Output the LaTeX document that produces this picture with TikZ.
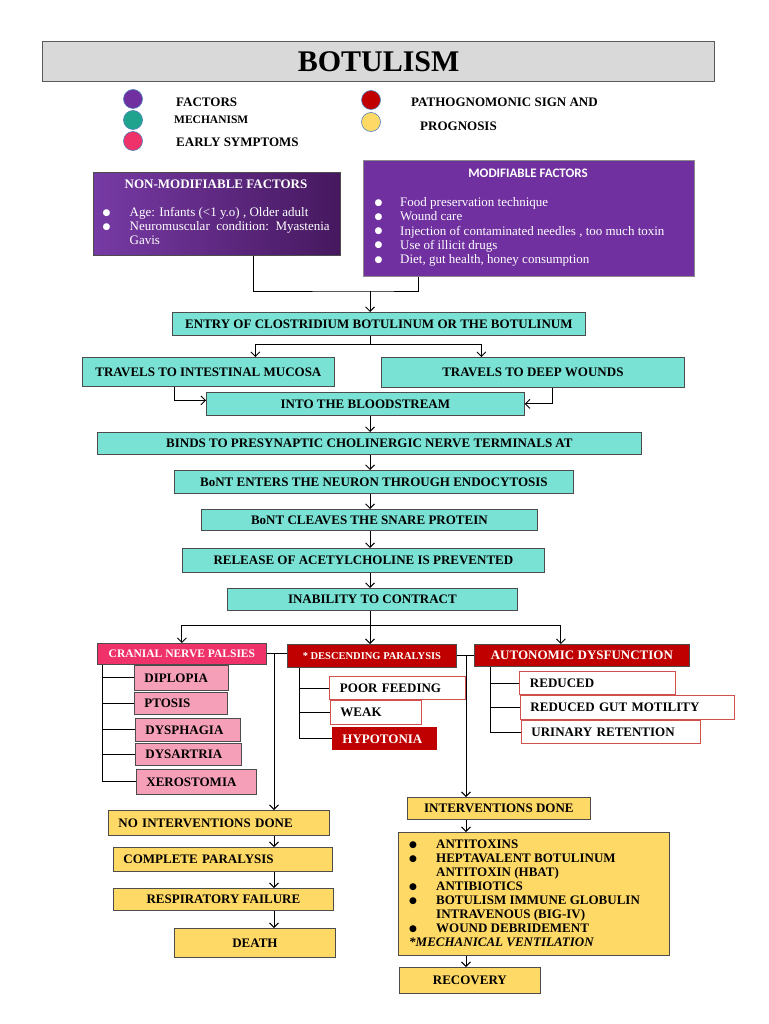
\documentclass[tikz,border=0pt]{standalone}
\usepackage{fontspec}
\setmainfont{Liberation Serif}
\newfontfamily\calibri{Carlito}
\newfontfamily\dejavu{DejaVu Sans}
\usetikzlibrary{arrows.meta}

\definecolor{factpurple}{HTML}{7030A0}
\definecolor{factdark}{HTML}{46185F}
\definecolor{mechteal}{HTML}{7AE2D4}
\definecolor{legteal}{HTML}{1FA38E}
\definecolor{symppink}{HTML}{F5A0B8}
\definecolor{sympred}{HTML}{F0326A}
\definecolor{signred}{HTML}{C00000}
\definecolor{progyellow}{HTML}{FFD966}
\definecolor{itemborder}{HTML}{D0504D}
\definecolor{legborder}{HTML}{4F81BD}
\definecolor{titlegray}{HTML}{D9D9D9}

% List bullet
\newcommand{\blt}{\raisebox{1.5pt}{\dejavu\fontsize{9}{14}\selectfont ●}}

\begin{document}
\begin{tikzpicture}[x=1pt, y=-1pt,
  every node/.style={inner sep=0pt, font=\bfseries\fontsize{13}{14}\selectfont},
  box/.style={draw=black!70, line width=0.8pt, anchor=north west},
  mech/.style={box, fill=mechteal},
  prog/.style={box, fill=progyellow},
  item/.style={box, text width=#1, align=left, inner xsep=10pt},
  sign/.style={box, fill=signred, text=white},
  outline/.style={draw=itemborder, line width=0.9pt, fill=white, anchor=north west},
  legdot/.style={circle, draw=legborder, line width=0.6pt, minimum size=19pt},
  arr/.style={-{Straight Barb[length=4.5pt,width=9pt]}, line width=0.9pt},
  link/.style={line width=0.9pt}
]

% Page
\path[use as bounding box, fill=white] (0,0) rectangle (768,1024);

% Title
\node[box, fill=titlegray, draw=black!65, line width=1.2pt, minimum width=672pt, minimum height=40pt,
      font=\bfseries\fontsize{30}{32}\selectfont] (title) at (42,41) {BOTULISM};

% Legend
\node[legdot, fill=factpurple] (lgfact) at (133,99) {};
\node[legdot, fill=legteal] (lgmech) at (133,120) {};
\node[legdot, fill=sympred] (lgsymp) at (133,141) {};
\node[legdot, fill=signred] (lgsign) at (371,100) {};
\node[legdot, fill=progyellow] (lgprog) at (371,122) {};
\node[anchor=west] (txfact) at (176,102) {FACTORS};
\node[anchor=west, font=\bfseries\fontsize{11.5}{13}\selectfont] (txmech) at (174,120) {MECHANISM};
\node[anchor=west] (txsymp) at (176,142) {EARLY SYMPTOMS};
\node[anchor=west] (txsign) at (411,102) {PATHOGNOMONIC SIGN AND};
\node[anchor=west] (txprog) at (420,126) {PROGNOSIS};

% Factors
\node[box, left color=factpurple!95!white, right color=factdark, minimum width=247pt, minimum height=83pt] (nonmod) at (93,172) {};
\node[text=white] (nonmodtitle) at (216,184) {NON-MODIFIABLE FACTORS};
\node[anchor=north west, text=white, font=\fontsize{13}{14}\selectfont] (nonmodlist) at (102.5,207) {%
  \begin{tabular}{@{}p{27pt}@{}l@{}}
  \blt & Age: Infants (<1 y.o) , Older adult\\
  \blt & Neuromuscular\ \ condition:\ \ Myastenia\\
       & Gavis
  \end{tabular}};

\node[box, fill=factpurple, draw=black!45, minimum width=331pt, minimum height=116pt] (mod) at (363,160) {};
\node[text=white, font=\calibri\bfseries\fontsize{13}{14}\selectfont] (modtitle) at (528,173) {MODIFIABLE FACTORS};
\node[anchor=north west, text=white, font=\fontsize{13}{14.25}\selectfont] (modlist) at (374.5,196.5) {%
  \begin{tabular}{@{}p{25.5pt}@{}l@{}}
  \blt & Food preservation technique\\
  \blt & Wound care\\
  \blt & Injection of contaminated needles , too much toxin\\
  \blt & Use of illicit drugs\\
  \blt & Diet, gut health, honey consumption
  \end{tabular}};

% Mechanism
\node[mech, minimum width=413pt, minimum height=23pt] (entry) at (172,312) {ENTRY\ OF\ CLOSTRIDIUM\ BOTULINUM\ OR\ THE\ BOTULINUM};
\node[mech, minimum width=252pt, minimum height=29pt] (intest) at (82,357) {TRAVELS TO INTESTINAL MUCOSA};
\node[mech, minimum width=303pt, minimum height=30pt] (deep) at (381,357) {TRAVELS TO DEEP WOUNDS};
\node[mech, minimum width=318pt, minimum height=23pt] (blood) at (206,392) {INTO THE BLOODSTREAM};
\node[mech, minimum width=544pt, minimum height=22pt] (binds) at (97,432) {BINDS TO PRESYNAPTIC CHOLINERGIC NERVE TERMINALS AT};
\node[mech, minimum width=399pt, minimum height=23pt] (enters) at (174,470) {BoNT ENTERS THE NEURON THROUGH ENDOCYTOSIS};
\node[mech, minimum width=336pt, minimum height=21pt] (cleaves) at (201,509) {BoNT CLEAVES THE SNARE PROTEIN};
\node[mech, minimum width=362pt, minimum height=24pt] (release) at (182,548) {RELEASE OF ACETYLCHOLINE IS PREVENTED};
\node[mech, minimum width=290pt, minimum height=22pt] (inab) at (227,588) {INABILITY TO CONTRACT};

% Early symptoms and signs
\node[box, fill=sympred, text=white, minimum width=169pt, minimum height=21pt,
      font=\bfseries\fontsize{11.5}{13}\selectfont] (cranial) at (97,643) {CRANIAL NERVE PALSIES};
\node[sign, minimum width=169pt, minimum height=23pt,
      font=\bfseries\fontsize{10.5}{12}\selectfont] (descend) at (287,644) {* DESCENDING PARALYSIS};
\node[sign, minimum width=215pt, minimum height=22pt] (auto) at (474,644) {AUTONOMIC DYSFUNCTION};

\node[item=74pt, fill=symppink, minimum height=25pt] (diplo) at (134,665) {DIPLOPIA};
\node[item=73pt, fill=symppink, minimum height=22pt] (ptosis) at (134,692) {PTOSIS};
\node[item=85pt, fill=symppink, minimum height=23pt] (dysph) at (135,718) {DYSPHAGIA};
\node[item=86pt, fill=symppink, minimum height=22pt] (dysar) at (135,743) {DYSARTRIA};
\node[item=100pt, fill=symppink, minimum height=25pt] (xero) at (136,769) {XEROSTOMIA};

\node[outline, text width=115pt, align=left, inner xsep=10.5pt, minimum height=23pt] (poor) at (329,676) {POOR FEEDING};
\node[outline, text width=71pt, align=left, inner xsep=10pt, minimum height=24pt] (weak) at (330,700) {WEAK};
\node[sign, draw=none, text width=85pt, align=left, inner xsep=10pt, minimum height=23pt] (hypo) at (332,727) {HYPOTONIA};

\node[outline, text width=135pt, align=left, inner xsep=10.5pt, minimum height=23pt] (reduced) at (519,671) {REDUCED};
\node[outline, text width=194pt, align=left, inner xsep=10pt, minimum height=24pt] (gut) at (520,695) {REDUCED GUT MOTILITY};
\node[outline, text width=159pt, align=left, inner xsep=10pt, minimum height=23pt] (urin) at (521,720) {URINARY RETENTION};

% Prognosis
\node[prog, text width=201pt, align=left, inner xsep=10pt, minimum height=25pt] (noint) at (108,810) {NO INTERVENTIONS DONE};
\node[prog, text width=199pt, align=left, inner xsep=10pt, minimum height=24pt] (compl) at (113,847) {COMPLETE PARALYSIS};
\node[prog, minimum width=220pt, minimum height=22pt] (resp) at (113,888) {RESPIRATORY FAILURE};
\node[prog, minimum width=161pt, minimum height=29pt] (death) at (174,928) {DEATH};

\node[prog, minimum width=183pt, minimum height=22pt] (intdone) at (407,797) {INTERVENTIONS DONE};
\node[prog, minimum width=271pt, minimum height=123pt] (treat) at (398,832) {};
\node[anchor=north west] (treatlist) at (409,838.5) {%
  \begin{tabular}{@{}p{27pt}@{}l@{}}
  \blt & ANTITOXINS\\
  \blt & HEPTAVALENT BOTULINUM\\
       & ANTITOXIN (HBAT)\\
  \blt & ANTIBIOTICS\\
  \blt & BOTULISM IMMUNE GLOBULIN\\
       & INTRAVENOUS (BIG-IV)\\
  \blt & WOUND DEBRIDEMENT\\
  \multicolumn{2}{@{}l@{}}{\itshape *MECHANICAL VENTILATION}
  \end{tabular}};
\node[prog, minimum width=141pt, minimum height=26pt] (recov) at (399,967) {RECOVERY};

% Guide columns for the connectors
\coordinate (mcol) at (370,0);
\coordinate (lcol) at (274,0);
\coordinate (rcol) at (466,0);
\coordinate (join) at (370,291);
\coordinate (split) at (370,344);
\coordinate (fork) at (370,625);

% Factors to entry
\draw[link] ([xshift=36.5pt]nonmod.south) |- (join) -| ([xshift=-110.5pt]mod.south);
\draw[arr] (join) -- (mcol |- entry.north);

% Entry routes
\draw[link] (mcol |- entry.south) -- (split);
\draw[arr] (split) -| ([xshift=47pt]intest.north);
\draw[arr] (split) -| ([xshift=-51.5pt]deep.north);
\draw[arr] ([xshift=-34pt]intest.south) |- ([yshift=3.5pt]blood.west);
\draw[arr] ([xshift=19.5pt]deep.south) |- (blood.east);

% Mechanism chain
\foreach \a/\b in {blood/binds, binds/enters, enters/cleaves, cleaves/release, release/inab} {
  \draw[arr] (mcol |- \a.south) -- (mcol |- \b.north);
}

% Split into symptoms
\draw[link] (mcol |- inab.south) -- (fork);
\draw[arr] (fork) -| (cranial.north);
\draw[arr] (fork) -- (mcol |- descend.north);
\draw[arr] (fork) -| ([xshift=-21pt]auto.north);

% Brackets of the lists
\draw[link] ([xshift=5pt]cranial.south west) |- (xero.west);
\foreach \n in {diplo, ptosis, dysph, dysar} {
  \draw[link] ([xshift=5pt]cranial.south west |- \n.west) -- (\n.west);
}
\draw[link] ([xshift=12pt]descend.south west) |- (hypo.west);
\foreach \n in {poor, weak} {
  \draw[link] ([xshift=12pt]descend.south west |- \n.west) -- (\n.west);
}
\draw[link] ([xshift=16pt]auto.south west) |- (urin.west);
\foreach \n in {reduced, gut} {
  \draw[link] ([xshift=16pt]auto.south west |- \n.west) -- (\n.west);
}

% Links between the symptom boxes and the outcomes
\draw[link] (cranial.east) -- (cranial.east -| descend.west);
\draw[arr] (lcol |- cranial.east) -- (lcol |- noint.north);
\draw[link] (descend.east) -- (descend.east -| auto.west);
\draw[arr] (rcol |- descend.east) -- (rcol |- intdone.north);

% Outcomes
\draw[arr] (lcol |- noint.south) -- (lcol |- compl.north);
\draw[arr] (lcol |- compl.south) -- (lcol |- resp.north);
\draw[arr] (lcol |- resp.south) -- (lcol |- death.north);
\draw[arr] (rcol |- intdone.south) -- (rcol |- treat.north);
\draw[arr] (rcol |- treat.south) -- (rcol |- recov.north);

\end{tikzpicture}
\end{document}
